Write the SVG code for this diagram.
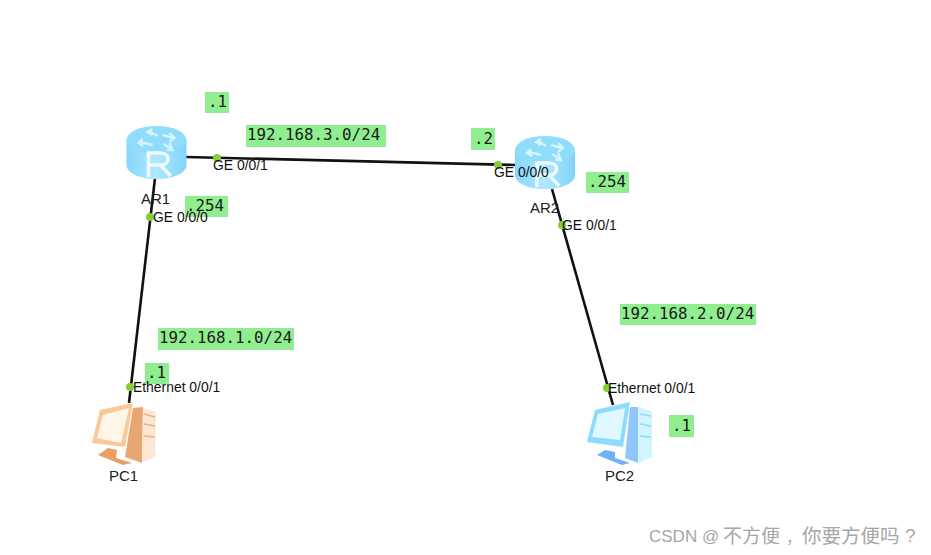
<svg xmlns="http://www.w3.org/2000/svg" width="931" height="555" viewBox="0 0 931 555">
<style>
.lab{fill:#90ee90}
.mono{font-family:"DejaVu Sans Mono","Liberation Mono",monospace;font-size:15.8px;fill:#1a1a1a}
.port{font-family:"Liberation Sans",Arial,sans-serif;font-size:13.9px;fill:#111}
.name{font-family:"Liberation Sans",Arial,sans-serif;font-size:15px;fill:#222}
.dot{fill:#82d034}
.link{stroke:#111;stroke-width:2.6;fill:none}
.wm{font-family:"Liberation Sans","Noto Sans CJK SC",sans-serif;fill:#a6a6a6}
</style>
<defs>
<linearGradient id="rb" x1="0" x2="1" y1="0" y2="0"><stop offset="0" stop-color="#86d6fc"/><stop offset="0.5" stop-color="#b0e8ff"/><stop offset="1" stop-color="#80d4fb"/></linearGradient>
<g id="router">
<path d="M0 14V39C0 47 13 53 30 53S60 47 60 39V14Z" fill="url(#rb)"/>
<ellipse cx="30" cy="14" rx="30" ry="14" fill="#8fdcfb"/>
<g fill="none" stroke="#d5f4ff" stroke-width="2.4">
<path d="M23 5L31 10M37 18L45 23M26 19L14 16M36 9L47 12"/>
<path d="M26 3L21 6L26 9M43 17L46 24L40 24M16 13L12 17L17 20M43 7L48 12L43 16"/>
</g>
<path d="M22 51V27H34C44 27 44 39 34 39H23M34 39L44 50" fill="none" stroke="#eefaff" stroke-width="3.6"/>
</g>
</defs>
<rect width="931" height="555" fill="#fff"/>
<g id="connectors">
<path class="link" d="M186 157L516 165"/>
<path class="link" d="M155 178L129 403"/>
<path class="link" d="M552 189L613 405"/>
</g>
<g id="AR1"><use href="#router" x="126.5" y="126"/><text class="name" x="141" y="204">AR1</text></g>
<g id="AR2"><use href="#router" x="515" y="136"/><text class="name" x="530" y="213">AR2</text></g>
<g id="PC1">
<path d="M133 408L143 407L142 463L125 457Z" fill="#e8a672"/>
<path d="M143 408L156 412L155 457L142 462Z" fill="#fde6d2"/>
<path d="M144 414L155 417M144 424L155 426M144 436L155 437" stroke="#f0b183" stroke-width="1.4"/>
<path d="M100 410L133 403L125 447L92 443Z" fill="#fbc998"/>
<path d="M103 415L129 408L121 443L97 438Z" fill="#fff6ea"/>
<path d="M108 448L117 450L116 458L132 463L123 465L98 455Z" fill="#e8a064"/>
<text class="name" x="109" y="481">PC1</text>
</g>
<g id="PC2">
<path d="M630 407L638 407L638 463L625 458Z" fill="#8fc6fb"/>
<path d="M638 407L652 411L652 457L638 463Z" fill="#d2f4fe"/>
<path d="M640 414L651 416M640 424L651 426M640 436L651 437" stroke="#8fdcf8" stroke-width="1.4"/>
<path d="M595 410L630 402L623 447L587 442Z" fill="#8edcfd"/>
<path d="M598 414L625 408L620 440L592 437Z" fill="#e0f8ff"/>
<path d="M605 450L615 452L615 458L630 463L622 465L597 455Z" fill="#6fb0fb"/>
<text class="name" x="605" y="481">PC2</text>
</g>
<g id="labels">
<rect class="lab" x="205" y="92" width="24" height="21"/><text class="mono" x="208" y="107">.1</text>
<rect class="lab" x="246" y="125" width="140" height="22"/><text class="mono" x="247" y="140">192.168.3.0/24</text>
<rect class="lab" x="471" y="128" width="24" height="22"/><text class="mono" x="474" y="144">.2</text>
<rect class="lab" x="586" y="172" width="43" height="21"/><text class="mono" x="588" y="187">.254</text>
<rect class="lab" x="185" y="196" width="43" height="21"/><text class="mono" x="186" y="211">.254</text>
<rect class="lab" x="158" y="328" width="136" height="22"/><text class="mono" x="159" y="343">192.168.1.0/24</text>
<rect class="lab" x="620" y="304" width="136" height="21"/><text class="mono" x="621" y="319">192.168.2.0/24</text>
<rect class="lab" x="145" y="363" width="24" height="21"/><text class="mono" x="147" y="378">.1</text>
<rect class="lab" x="669" y="415" width="25" height="22"/><text class="mono" x="672" y="431">.1</text>
</g>
<g id="ports">
<circle class="dot" cx="217" cy="158" r="4"/><text class="port" x="213" y="170">GE 0/0/1</text>
<circle class="dot" cx="498" cy="165" r="4"/><text class="port" x="494" y="177">GE 0/0/0</text>
<circle class="dot" cx="150" cy="217" r="4"/><text class="port" x="153" y="222">GE 0/0/0</text>
<circle class="dot" cx="562" cy="225" r="4"/><text class="port" x="562" y="230">GE 0/0/1</text>
<circle class="dot" cx="130" cy="387" r="4"/><text class="port" x="133" y="392">Ethernet 0/0/1</text>
<circle class="dot" cx="607" cy="388" r="4"/><text class="port" x="608" y="393">Ethernet 0/0/1</text>
</g>
<text class="wm" x="649" y="542" font-size="17">CSDN @</text>
<text class="wm" x="723" y="543" font-size="19">不方便</text>
<text class="wm" x="786" y="543" font-size="15.5">，</text>
<text class="wm" x="802" y="543" font-size="19.5">你要方便吗</text>
<text class="wm" x="905" y="542" font-size="19">?</text>
</svg>
